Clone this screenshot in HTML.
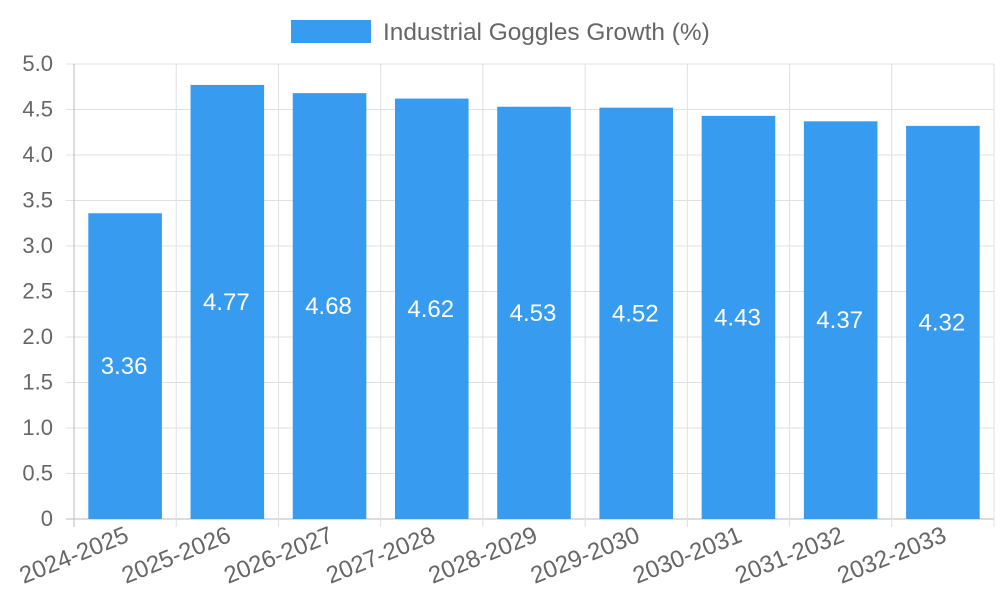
<!DOCTYPE html>
<html><head><meta charset="utf-8"><style>
body{margin:0;background:#fff;}
svg{font-family:"Liberation Sans",sans-serif;}
</style></head><body>
<svg id="c" width="1000" height="600">
<g>
<rect x="291" y="20" width="80" height="23" fill="#379cf0"/>
<text x="383" y="40" font-size="24.4" fill="#666">Industrial Goggles Growth (%)</text>
</g>
<g id="grid"></g><g id="bars"></g><g id="labels"></g>
</svg>
<script>
const categories=["2024-2025","2025-2026","2026-2027","2027-2028","2028-2029","2029-2030","2030-2031","2031-2032","2032-2033"];
const growthValues=[3.36,4.77,4.68,4.62,4.53,4.52,4.43,4.37,4.32];
const yTicks=[0,0.5,1,1.5,2,2.5,3,3.5,4,4.5,5];
const yTickLabels=["0","0.5","1.0","1.5","2.0","2.5","3.0","3.5","4.0","4.5","5.0"];
const L=74,R=994,T=64,B=519,yMax=5;
const ns="http://www.w3.org/2000/svg";
const band=(R-L)/categories.length;
const y=v=>B-(v/yMax)*(B-T);
const x=i=>L+i*band;
function mk(tag,attrs,parent,txt){const e=document.createElementNS(ns,tag);for(const k in attrs)e.setAttribute(k,attrs[k]);if(txt!==undefined)e.textContent=txt;document.getElementById(parent).appendChild(e);return e;}
yTicks.forEach((t,i)=>{
 const g=mk('line',{x1:L-8,x2:R,y1:y(t),y2:y(t),stroke:i==0?'#bbb':'#e0e0e0','stroke-width':1},'grid');
 
 
 const tl=mk('text',{x:L-21,y:y(t)+7,'text-anchor':'end','font-size':22,fill:'#666'},'grid',yTickLabels[i]);
 
 
});
for(let i=0;i<=categories.length;i++){
 const g=mk('line',{x1:x(i),x2:x(i),y1:T,y2:B+8,stroke:i==0?'#bbb':'#e0e0e0','stroke-width':1},'grid');
 
 
}
categories.forEach((c,i)=>{
 const v=growthValues[i],bw=band*0.72,bx=x(i)+(band-bw)/2;
 const r=mk('rect',{x:bx,y:y(v),width:bw,height:B-y(v),fill:'#379cf0'},'bars');
 
 
 const vl=mk('text',{x:x(i)+band/2-1,y:(y(v)+B)/2+8,'text-anchor':'middle','font-size':24,fill:'#fff'},'labels',v.toFixed(2));
 
 
 const cx=x(i)+band/2+5,cy=B+22;
 const xl=mk('text',{x:cx,y:cy,'text-anchor':'end','font-size':24,fill:'#666',transform:`rotate(-22 ${cx} ${cy})`},'labels',c);
 
 
});
</script>
</body></html>
